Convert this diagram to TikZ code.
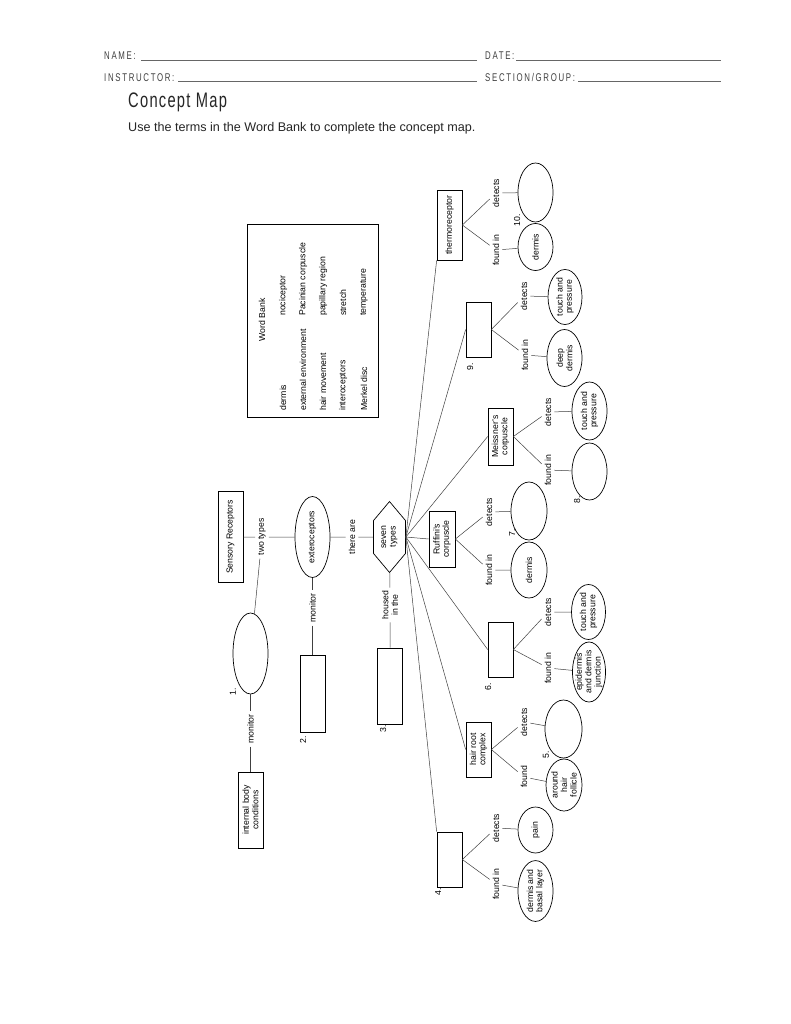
\documentclass[tikz,border=0pt]{standalone}
\usepackage{fontspec}
\setmainfont{Liberation Sans}
\newfontfamily\headfont[LetterSpace=15,FakeStretch=0.7]{Liberation Sans}
\newfontfamily\titlefont[LetterSpace=6,FakeStretch=0.7]{Liberation Sans}
\usetikzlibrary{shapes.geometric,shapes.symbols}

\newcommand{\mapfont}{\fontsize{8.7}{9.4}\selectfont}

\tikzset{
  box/.style={draw,line width=0.7pt,rotate=90,minimum width=55pt,minimum height=25pt,inner sep=1pt,align=center,font=\mapfont},
  oval/.style={draw,ellipse,line width=0.7pt,rotate=90,minimum width=57pt,minimum height=35pt,inner sep=0pt,align=center,font=\mapfont},
  tag/.style={rotate=90,inner sep=3pt,align=center,font=\mapfont},
  num/.style={rotate=90,inner sep=0pt,font=\mapfont},
  bank/.style={rotate=90,inner sep=0pt,anchor=west,font=\mapfont},
  hexa/.style={draw,line width=0.7pt,signal,signal to=east and west,signal pointer angle=80,rotate=90,minimum width=71pt,minimum height=32pt,inner sep=0pt,align=center,font=\mapfont},
  link/.style={black!75,line width=0.5pt},
  rule/.style={black!60,line width=0.6pt},
  head/.style={inner sep=0pt,anchor=base west,font=\headfont\fontsize{11.2}{13}\selectfont,text=black!75},
}

\begin{document}
\begin{tikzpicture}[x=1pt,y=-1pt]
\useasboundingbox[fill=white] (0,0) rectangle (791,1024);

% header
\node[head] (name) at (104,60) {NAME:};
\draw[rule] (141,60) -- (477,60);
\node[head] (date) at (485,60) {DATE:};
\draw[rule] (516,60) -- (721,60);
\node[head] (instr) at (104,81.5) {INSTRUCTOR:};
\draw[rule] (178,81.5) -- (477,81.5);
\node[head] (section) at (485,81.5) {SECTION/GROUP:};
\draw[rule] (578,81.5) -- (721,81.5);
\node[inner sep=0pt,anchor=base west,font=\titlefont\fontsize{21}{24}\selectfont,text=black!85] (title) at (128,108) {Concept Map};
\node[inner sep=0pt,anchor=base west,font=\fontsize{12.6}{15}\selectfont,text=black!85] (task) at (128,132) {Use the terms in the Word Bank to complete the concept map.};

% word bank
\draw[line width=0.7pt] (247,224) rectangle (378,417);
\node[num] (wbank) at (262,320) {Word Bank};
\node[bank] (w1) at (283,411) {dermis};
\node[bank] (w2) at (283,316) {nociceptor};
\node[bank] (w3) at (303,411) {external environment};
\node[bank] (w4) at (303,316) {Pacinian corpuscle};
\node[bank] (w5) at (323,411) {hair movement};
\node[bank] (w6) at (323,316) {papillary region};
\node[bank] (w7) at (343,411) {interoceptors};
\node[bank] (w8) at (343,316) {stretch};
\node[bank] (w9) at (364,411) {Merkel disc};
\node[bank] (w10) at (364,316) {temperature};

% left part
\node[box,minimum width=91pt] (sr) at (230.5,537) {Sensory Receptors};
\node[tag] (twotypes) at (262,537) {two types};
\node[oval,minimum width=81pt] (extero) at (312.5,537) {exteroceptors};
\node[tag] (therare) at (352,537) {there are};
\node[hexa] (hex) at (389.5,537) {seven\\types};
\node[tag] (housed) at (390,605) {housed\\in the};
\node[box,minimum width=76pt] (boxthree) at (390,686) {};
\node[tag] (monitora) at (312.5,608) {monitor};
\node[box,minimum width=77pt] (boxtwo) at (312.5,693.5) {};
\node[oval,minimum width=81pt] (ellone) at (250.5,653.5) {};
\node[tag] (monitorb) at (250.5,729) {monitor};
\node[box,minimum width=76pt] (ibc) at (250.5,810) {internal body\\conditions};

\draw[link] (sr) -- (twotypes) -- (extero) -- (therare) -- (hex);
\draw[link] (twotypes) -- (ellone);
\draw[link] (extero) -- (monitora) -- (boxtwo);
\draw[link] (ellone) -- (monitorb) -- (ibc);
\draw[link] (hex) -- (housed) -- (boxthree);

% the seven types
\node[box,minimum width=70pt] (thermo) at (449.5,225) {thermoreceptor};
\node[box] (boxnine) at (478.5,329.5) {};
\node[box,minimum width=57pt] (meissner) at (500.5,436.5) {Meissner's\\corpuscle};
\node[box,minimum width=56pt,minimum height=26pt] (ruffini) at (442,539) {Ruffini's\\corpuscle};
\node[box] (boxsix) at (500.5,649.5) {};
\node[box] (hairroot) at (478.5,749.5) {hair root\\complex};
\node[box] (boxfour) at (449.5,859.5) {};

\foreach \t/\a in {thermo/north west,boxnine/north,meissner/north,ruffini/north,boxsix/north,hairroot/north,boxfour/north east}
  \draw[link] (hex.south) -- (\t.\a);

\node[tag] (thermodet) at (496,193) {detects};
\node[tag] (thermofound) at (496,250) {found in};
\node[oval,minimum width=59pt] (ellten) at (535.5,192.5) {};
\node[oval,minimum width=47pt] (thermodermis) at (535.5,247) {dermis};

\node[tag] (ninedet) at (524,296) {detects};
\node[tag] (ninefound) at (525,355) {found in};
\node[oval,minimum width=55pt,minimum height=34pt] (ninetouch) at (565,297) {touch and\\pressure};
\node[oval] (deepdermis) at (564.5,358) {deep\\dermis};

\node[tag] (meisdet) at (548,412) {detects};
\node[tag] (meisfound) at (548,470) {found in};
\node[oval,minimum width=58pt] (meistouch) at (589.5,411) {touch and\\pressure};
\node[oval] (elleight) at (589.5,471.5) {};

\node[tag] (rufdet) at (489,512) {detects};
\node[tag] (ruffound) at (489,570) {found in};
\node[oval,minimum width=58pt,minimum height=36pt] (ellseven) at (529,511) {};
\node[oval,minimum width=56pt,minimum height=36pt] (rufdermis) at (529,570) {dermis};

\node[tag] (sixdet) at (548,612) {detects};
\node[tag] (sixfound) at (548,668) {found in};
\node[oval,minimum width=55pt,minimum height=34pt] (sixtouch) at (588.5,612) {touch and\\pressure};
\node[oval,minimum width=60pt,minimum height=33pt,inner sep=-2pt] (junction) at (589,672) {epidermis\\and dermis\\junction};

\node[tag] (hairdet) at (524,722) {detects};
\node[tag] (hairfound) at (524,777) {found};
\node[oval,minimum width=58pt,minimum height=37pt] (ellfive) at (563.5,729) {};
\node[oval,minimum width=52pt,minimum height=36pt,inner sep=-2pt] (follicle) at (564,785) {around\\hair\\follicle};

\node[tag] (fourdet) at (496,828) {detects};
\node[tag] (fourfound) at (496,884) {found in};
\node[oval,minimum width=46pt] (pain) at (535.5,830) {pain};
\node[oval] (basal) at (535.5,891) {dermis and\\basal layer};

\foreach \b/\d/\f/\x/\y in {thermo/thermodet/thermofound/ellten/thermodermis,
    boxnine/ninedet/ninefound/ninetouch/deepdermis,
    meissner/meisdet/meisfound/meistouch/elleight,
    ruffini/rufdet/ruffound/ellseven/rufdermis,
    boxsix/sixdet/sixfound/sixtouch/junction,
    hairroot/hairdet/hairfound/ellfive/follicle,
    boxfour/fourdet/fourfound/pain/basal}
  {
  \draw[link] (\b.south) -- (\d) -- (\x);
  \draw[link] (\b.south) -- (\f) -- (\y);
  }

% numbers
\node[num] (n1) at (233,692) {1.};
\node[num] (n2) at (303,740) {2.};
\node[num] (n3) at (383,729) {3.};
\node[num] (n4) at (438,892) {4.};
\node[num] (n5) at (546,755) {5.};
\node[num] (n6) at (488,687) {6.};
\node[num] (n7) at (512,533) {7.};
\node[num] (n8) at (577,500) {8.};
\node[num] (n9) at (470,367) {9.};
\node[num] (n10) at (517,220) {10.};
\end{tikzpicture}
\end{document}
